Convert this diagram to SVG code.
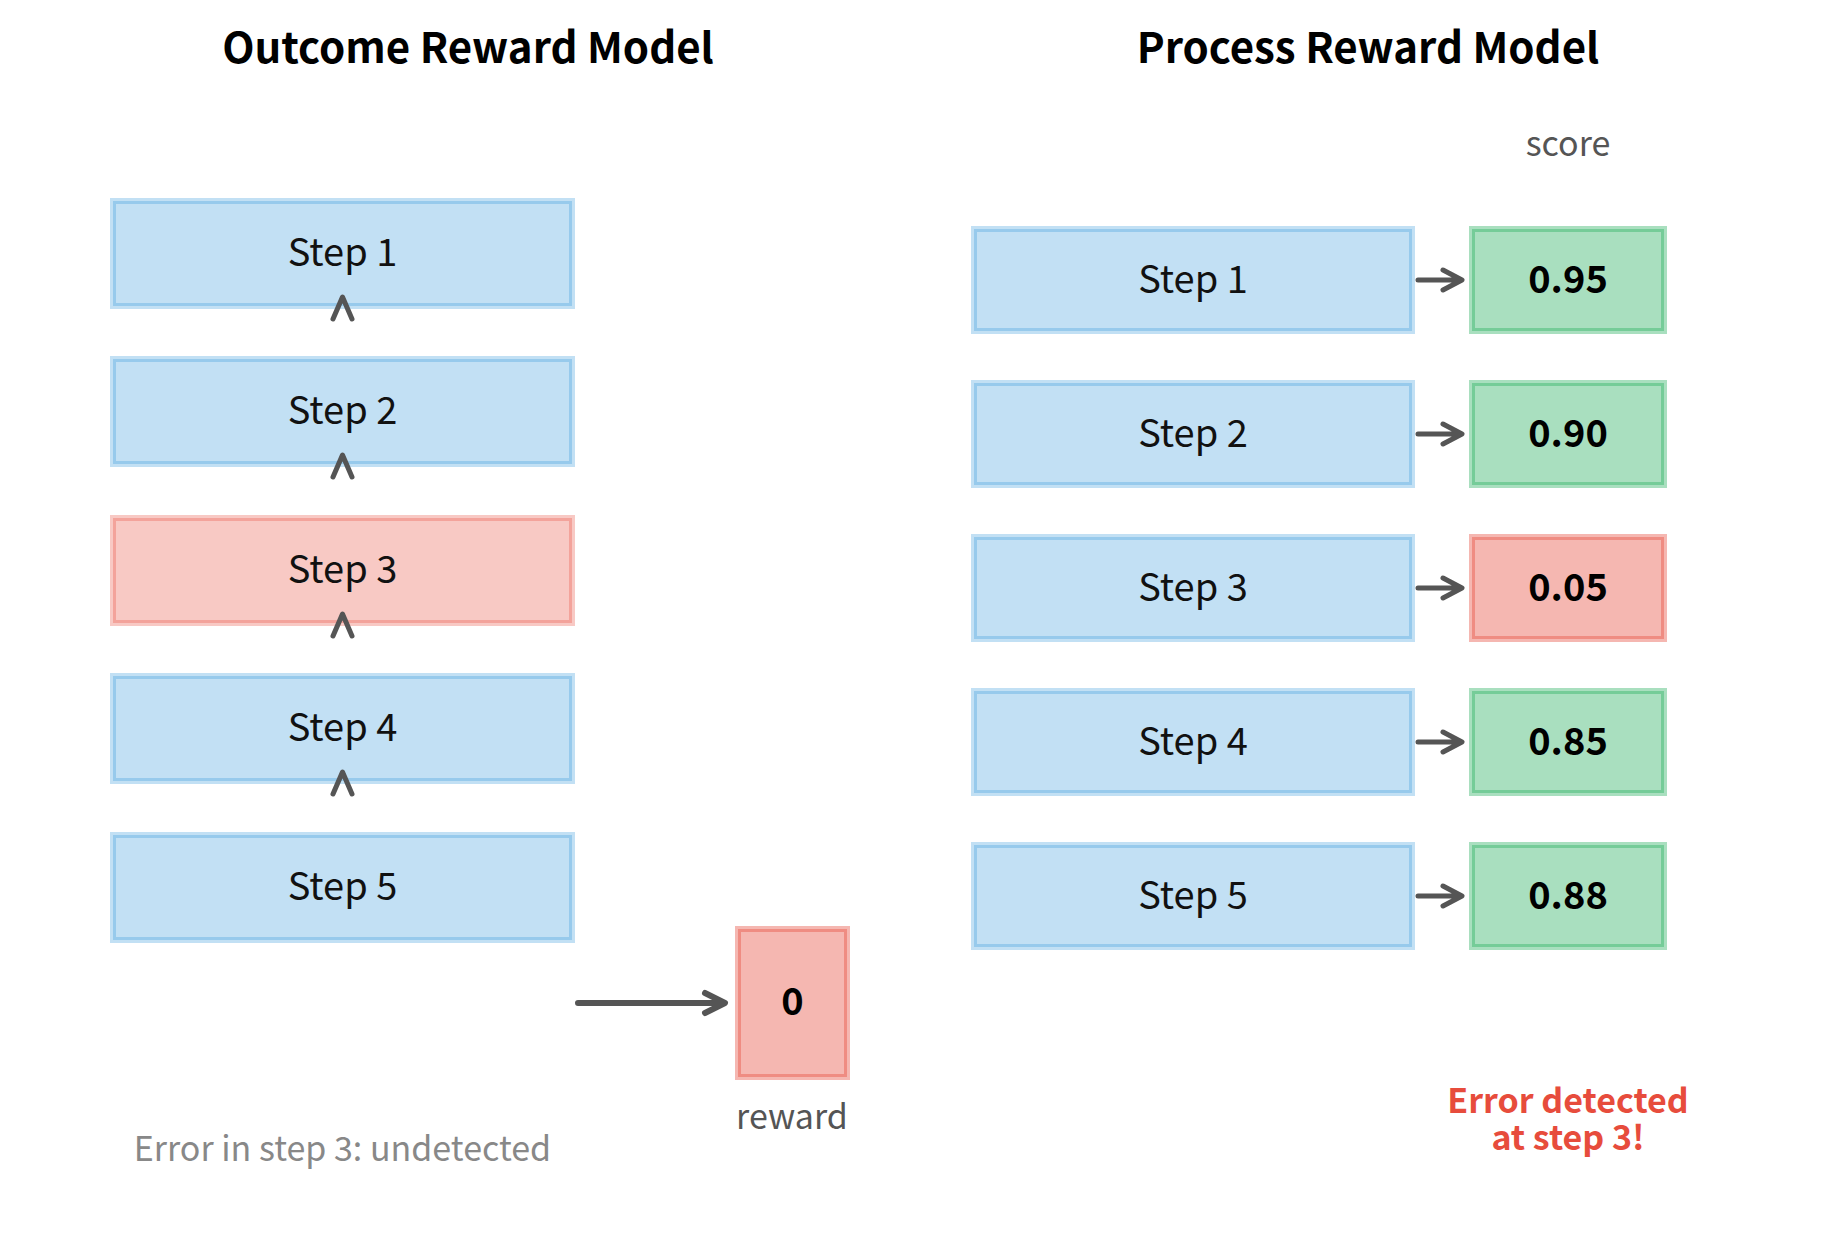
<svg xmlns="http://www.w3.org/2000/svg" width="1834" height="1234" viewBox="0 0 1834 1234">
<style>
text{font-family:"Noto Sans CJK SC","Source Sans Pro","Noto Sans",sans-serif;text-anchor:middle}
.title{font-size:42px;font-weight:700;fill:#000}
.step{font-size:38px;fill:#111}
.val{font-size:38px;font-weight:700;fill:#000}
.lbl{font-size:34px;fill:#555}
.note{font-size:34px;fill:#888}
.err{font-size:34px;font-weight:700;fill:#e74c3c}
.blue{fill:#3498db;fill-opacity:0.3;stroke:#3498db;stroke-opacity:0.3;stroke-width:6}
.redl{fill:#e74c3c;fill-opacity:0.3;stroke:#e74c3c;stroke-opacity:0.3;stroke-width:6}
.red{fill:#e74c3c;fill-opacity:0.4;stroke:#e74c3c;stroke-opacity:0.4;stroke-width:6}
.green{fill:#27ae60;fill-opacity:0.4;stroke:#27ae60;stroke-opacity:0.4;stroke-width:6}
.ln{fill:none;stroke:#555;stroke-linecap:round;stroke-linejoin:round}
</style>
<rect width="1834" height="1234" fill="#fff"/>
<text class="title" x="468" y="63">Outcome Reward Model</text>
<text class="title" x="1368" y="63">Process Reward Model</text>

<g id="orm-step1"><rect class="blue" x="113" y="201" width="459" height="105"/><text class="step" x="342.5" y="266">Step 1</text></g>
<g id="orm-step2"><rect class="blue" x="113" y="359" width="459" height="105"/><text class="step" x="342.5" y="424">Step 2</text></g>
<g id="orm-step3"><rect class="redl" x="113" y="518" width="459" height="105"/><text class="step" x="342.5" y="583">Step 3</text></g>
<g id="orm-step4"><rect class="blue" x="113" y="676" width="459" height="105"/><text class="step" x="342.5" y="741">Step 4</text></g>
<g id="orm-step5"><rect class="blue" x="113" y="835" width="459" height="105"/><text class="step" x="342.5" y="900">Step 5</text></g>
<g id="orm-reward"><rect class="red" x="738" y="929" width="109" height="148"/><text class="val" x="792.5" y="1015">0</text></g>
<text class="lbl" x="792" y="1129">reward</text>
<text class="note" x="342.5" y="1161">Error in step 3: undetected</text>

<g id="prm-step1"><rect class="blue" x="974" y="229" width="438" height="102"/><text class="step" x="1193" y="293">Step 1</text></g>
<g id="prm-step2"><rect class="blue" x="974" y="383" width="438" height="102"/><text class="step" x="1193" y="447">Step 2</text></g>
<g id="prm-step3"><rect class="blue" x="974" y="537" width="438" height="102"/><text class="step" x="1193" y="601">Step 3</text></g>
<g id="prm-step4"><rect class="blue" x="974" y="691" width="438" height="102"/><text class="step" x="1193" y="755">Step 4</text></g>
<g id="prm-step5"><rect class="blue" x="974" y="845" width="438" height="102"/><text class="step" x="1193" y="909">Step 5</text></g>
<text class="lbl" x="1568" y="156">score</text>
<g id="prm-score1"><rect class="green" x="1472" y="229" width="192" height="102"/><text class="val" x="1568" y="293">0.95</text></g>
<g id="prm-score2"><rect class="green" x="1472" y="383" width="192" height="102"/><text class="val" x="1568" y="447">0.90</text></g>
<g id="prm-score3"><rect class="red" x="1472" y="537" width="192" height="102"/><text class="val" x="1568" y="601">0.05</text></g>
<g id="prm-score4"><rect class="green" x="1472" y="691" width="192" height="102"/><text class="val" x="1568" y="755">0.85</text></g>
<g id="prm-score5"><rect class="green" x="1472" y="845" width="192" height="102"/><text class="val" x="1568" y="909">0.88</text></g>
<text class="err" x="1568" y="1113">Error detected</text>
<text class="err" x="1568" y="1150">at step 3!</text>

<g id="connectors">
<g class="ln" stroke-width="5">
<path d="M333,319 L342.5,297 L352,319"/>
<path d="M333,477 L342.5,455 L352,477"/>
<path d="M333,636 L342.5,614 L352,636"/>
<path d="M333,794 L342.5,772 L352,794"/>
</g>
<path class="ln" stroke-width="6" d="M578,1003 L724,1003 M705,993 L725,1003 L705,1013"/>
<g class="ln" stroke-width="5">
<path d="M1418,280 L1461,280 M1443,270 L1462,280 L1443,290"/>
<path d="M1418,434 L1461,434 M1443,424 L1462,434 L1443,444"/>
<path d="M1418,588 L1461,588 M1443,578 L1462,588 L1443,598"/>
<path d="M1418,742 L1461,742 M1443,732 L1462,742 L1443,752"/>
<path d="M1418,896 L1461,896 M1443,886 L1462,896 L1443,906"/>
</g>
</g>
</svg>
